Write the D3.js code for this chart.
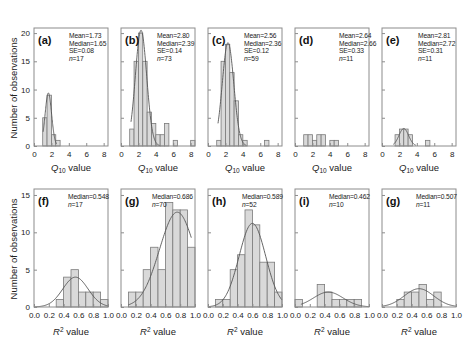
<!DOCTYPE html>
<html><head><meta charset="utf-8">
<script src="https://cdn.jsdelivr.net/npm/d3@7"></script>
<style>
html,body{margin:0;padding:0;background:#fff;}
svg text{font-family:"Liberation Sans",Arial,sans-serif;}
</style></head>
<body><svg id="c" width="474" height="358"></svg>
<script>
// ---------- data ----------
const topLabels = ["(a)","(b)","(c)","(d)","(e)"];
const bottomLabels = ["(f)","(g)","(h)","(i)","(g)"];
const topBinStarts = [0,0.5,1,1.5,2,2.5,3,3.5,4,4.5,5,5.5,6,6.5,7,7.5,8];
const topCountsA = [0,0,5,9,2,1,0,0,0,0,0,0,0,0,0,0,0];
const topCountsB = [0,0,3,15,20,15,6,4,2,2,4,0,1,0,0,0,1];
const topCountsC = [0,0,1,15,18,13,8,2,1,0,0,0,0,1,0,0,0];
const topCountsD = [0,0,2,2,1,2,2,0,1,1,0,0,0,0,0,0,0];
const topCountsE = [0,0,0,2,3,3,2,0,0,0,1,0,0,0,0,0,0];
const bottomBinStarts = [0,0.1,0.2,0.3,0.4,0.5,0.6,0.7,0.8,0.9];
const bottomCountsF = [0,0,0,1,4,5,2,2,2,1];
const bottomCountsG = [0,2,2,5,8,5,14,13,13,8];
const bottomCountsH = [0,1,1,5,7,13,11,6,6,2];
const bottomCountsI = [1,0,0,3,2,1,1,1,1,0];
const bottomCountsJ = [0,0,1,2,2,3,1,2,0,0];
const topMean   = ["1.73","2.80","2.56","2.64","2.81"];
const topMedian = ["1.65","2.39","2.36","2.66","2.72"];
const topSE     = ["0.08","0.14","0.12","0.33","0.31"];
const topN      = ["17","73","59","11","11"];
const bottomMedian = ["0.548","0.686","0.589","0.462","0.507"];
const bottomN      = ["17","70","52","10","11"];
// fitted normal curves: [mean, sd, peak, xFrom, xTo] (null = no curve)
const topFits = [[1.65,0.37,9.4,1.05,2.6],[2.3,0.65,20.5,1.15,4.5],[2.3,0.66,18.3,1.15,4.4],null,[2.5,0.55,3.1,1.3,3.9]];
const bottomFits = [[0.56,0.17,4.0,0,1],[0.76,0.24,12.7,0.1,0.95],[0.6,0.18,11.2,0,1],[0.45,0.2,2.0,0.08,1],[0.5,0.2,2.45,0,1]];
const topXTicks = [0,2,4,6,8];
const topYTicks = [0,5,10,15,20];
const bottomXTicks = [0,0.2,0.4,0.6,0.8,1.0];
const bottomYTicks = [0,5,10,15];

// ---------- layout ----------
const svg = d3.select("#c");
const panelX = [34,121,208,295,382];
const pw = 74;
const rows = [
  {top:28, bottom:146, xDom:[0,8.5], yDom:[0,20.9], binW:0.5, starts:topBinStarts,
   counts:[topCountsA,topCountsB,topCountsC,topCountsD,topCountsE], fits:topFits,
   labels:topLabels, xt:topXTicks, yt:topYTicks, xfmt:d3.format("d"), statDx:[35,36,36,44,36]},
  {top:189, bottom:307, xDom:[0,1], yDom:[0,15.8], binW:0.1, starts:bottomBinStarts,
   counts:[bottomCountsF,bottomCountsG,bottomCountsH,bottomCountsI,bottomCountsJ], fits:bottomFits,
   labels:bottomLabels, xt:bottomXTicks, yt:bottomYTicks, xfmt:d3.format(".1f"), statDx:[34,31,34,34,34]}
];
const frameCol = "#8c8c8c", textCol = "#222";

rows.forEach((r, ri) => {
  const y = d3.scaleLinear().domain(r.yDom).range([r.bottom, r.top]);
  panelX.forEach((px, pi) => {
    const x = d3.scaleLinear().domain(r.xDom).range([px, px + pw]);
    const g = svg.append("g");
    const bars = r.starts.map((s,i)=>({s, c:r.counts[pi][i]})).filter(d=>d.c>0);
    g.selectAll("rect.bar").data(bars).enter().append("rect")
      .attr("x", d=>x(d.s)).attr("width", d=>x(d.s+r.binW)-x(d.s))
      .attr("y", d=>y(d.c)).attr("height", d=>y(0)-y(d.c))
      .attr("fill","#d9d9d9").attr("stroke","#7a7a7a").attr("stroke-width",0.8);
    const f = r.fits[pi];
    if (f) {
      const pts = d3.range(0,101).map(k=>{
        const xv = f[3] + (f[4]-f[3])*k/100;
        return [xv, f[2]*Math.exp(-0.5*Math.pow((xv-f[0])/f[1],2))];
      });
      g.append("path").datum(pts)
        .attr("d", d3.line().x(d=>x(d[0])).y(d=>y(d[1])))
        .attr("fill","none").attr("stroke","#555").attr("stroke-width",0.9);
    }
    g.append("rect").attr("x",px).attr("y",r.top).attr("width",pw).attr("height",r.bottom-r.top)
      .attr("fill","none").attr("stroke",frameCol).attr("stroke-width",1);
    const xa = g.append("g").attr("transform",`translate(0,${r.bottom})`)
      .call(d3.axisBottom(x).tickValues(r.xt).tickSize(-3).tickFormat(r.xfmt).tickPadding(5));
    xa.select(".domain").remove();
    xa.selectAll("line").attr("stroke",frameCol);
    xa.selectAll("text").attr("font-size","8px").attr("fill",textCol).attr("font-family","Liberation Sans, Arial, sans-serif");
    const ya = g.append("g").attr("transform",`translate(${px},0)`)
      .call(d3.axisLeft(y).tickValues(r.yt).tickSize(-3).tickPadding(4)
        .tickFormat(pi===0 ? d3.format("d") : ()=>""));
    ya.select(".domain").remove();
    ya.selectAll("line").attr("stroke",frameCol);
    ya.selectAll("text").attr("font-size","8px").attr("fill",textCol).attr("font-family","Liberation Sans, Arial, sans-serif");
    g.append("text").attr("x",px+4).attr("y",r.top+16).text(r.labels[pi])
      .attr("font-size","11px").attr("font-weight","bold").attr("fill","#111");
    const sx = px + r.statDx[pi];
    const lines = ri===0
      ? [["Mean=",topMean[pi]],["Median=",topMedian[pi]],["SE=",topSE[pi]],["n","=" + topN[pi]]]
      : [["Median=",bottomMedian[pi]],["n","=" + bottomN[pi]]];
    lines.forEach((ln, li) => {
      const t = g.append("text").attr("x",sx).attr("y",r.top+10+li*7.6)
        .attr("font-size","6.7px").attr("letter-spacing","-0.15px").attr("fill",textCol);
      if (ln[0]==="n") {
        t.append("tspan").attr("font-style","italic").text("n");
        t.append("tspan").text(ln[1]);
      } else t.text(ln[0]+ln[1]);
    });
    const cx = px + pw/2;
    if (ri===0) {
      const t = g.append("text").attr("x",cx).attr("y",171).attr("text-anchor","middle")
        .attr("font-size","9.5px").attr("fill",textCol);
      t.append("tspan").attr("font-style","italic").text("Q");
      t.append("tspan").attr("font-size","6.5px").attr("dy",2).text("10");
      t.append("tspan").attr("dy",-2).text(" value");
    } else {
      const t = g.append("text").attr("x",cx).attr("y",335).attr("text-anchor","middle")
        .attr("font-size","9.5px").attr("fill",textCol);
      t.append("tspan").attr("font-style","italic").text("R");
      t.append("tspan").attr("font-size","6.5px").attr("dy",-3.5).text("2");
      t.append("tspan").attr("dy",3.5).text(" value");
    }
  });
  const cy = (r.top + r.bottom)/2 + 1;
  svg.append("text").attr("transform",`translate(17,${cy}) rotate(-90)`)
    .attr("text-anchor","middle").attr("font-size","9.5px").attr("fill",textCol)
    .text("Number of observations");
});
</script></body></html>
